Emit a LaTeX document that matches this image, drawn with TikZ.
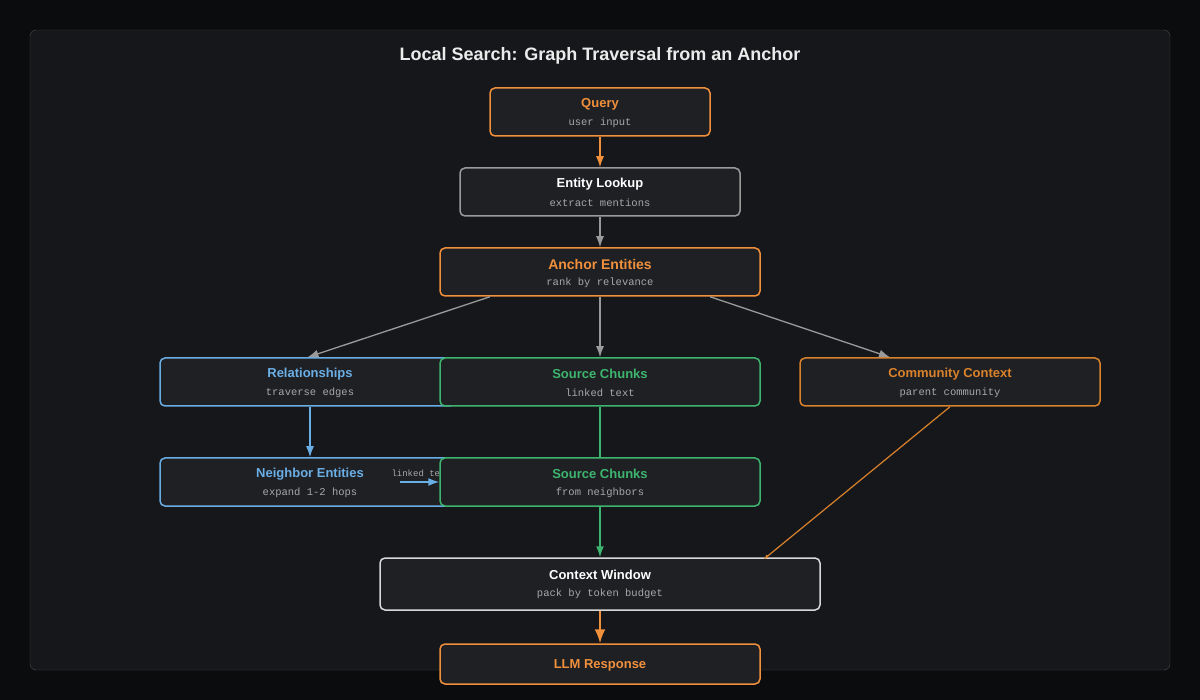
\documentclass[tikz,border=0pt]{standalone}
\usepackage{fontspec}
\setmainfont{Liberation Sans}
\newfontfamily\monof{Liberation Mono}
\usetikzlibrary{arrows.meta,calc}
\definecolor{bg}{HTML}{0B0C0E}
\definecolor{panel}{HTML}{16171B}
\definecolor{boxf}{HTML}{1F2024}
\definecolor{cor}{HTML}{F0903C}
\definecolor{cord}{HTML}{D9822B}
\definecolor{cgr}{HTML}{9A9A9A}
\definecolor{cbl}{HTML}{6AAEE6}
\definecolor{cgn}{HTML}{3DB56E}
\definecolor{cwh}{HTML}{D8D8D8}
\definecolor{sub}{HTML}{A8A8A8}
\tikzset{
 box/.style={draw=#1, fill=boxf, line width=1.5pt, rounded corners=5pt, inner sep=0pt},
 ttl/.style={font=\bfseries\fontsize{13}{15}\selectfont},
 sb/.style={font=\monof\fontsize{10.5}{12}\selectfont, text=sub},
 arr/.style={-{Latex[length=11pt,width=8pt]}, line width=1.3pt},
}
\begin{document}
\begin{tikzpicture}[x=1pt,y=-1pt]
\useasboundingbox (0,0) rectangle (1200,700);
\fill[bg] (0,0) rectangle (1200,700);
\fill[panel, draw=black!70, rounded corners=6pt] (30,30) rectangle (1170,670);
\node[font=\bfseries\fontsize{18}{20}\selectfont, text=white!92!black] (title) at (600,56) {Local Search: Graph Traversal from an Anchor};

\node[box=cor, minimum width=220pt, minimum height=48pt] (q) at (600,112) {};
\node[ttl, text=cor] at (600,104) {Query}; \node[sb] at (600,123) {user input};
\node[box=cgr, minimum width=280pt, minimum height=48pt] (el) at (600,192) {};
\node[ttl, text=white] at (600,184) {Entity Lookup}; \node[sb] at (600,203) {extract mentions};
\node[box=cor, minimum width=320pt, minimum height=48pt] (an) at (600,272) {};
\node[text=cor, font=\bfseries\fontsize{14}{16}\selectfont] at (600,264) {Anchor Entities}; \node[sb] at (600,283) {rank by relevance};

\node[box=cbl, minimum width=295pt, minimum height=48pt] (rel) at (307.5,382) {};
\node[ttl, text=cbl] at (310,374) {Relationships}; \node[sb] at (310,393) {traverse edges};
\node[box=cgn, minimum width=320pt, minimum height=48pt] (sc) at (600,382) {};
\node[ttl, text=cgn] at (600,374) {Source Chunks}; \node[sb] at (600,393) {linked text};
\node[box=cord, minimum width=300pt, minimum height=48pt] (cc) at (950,382) {};
\node[ttl, text=cord] at (950,374) {Community Context}; \node[sb] at (950,393) {parent community};

\node[box=cbl, minimum width=295pt, minimum height=48pt] (ne) at (307.5,482) {};
\node[ttl, text=cbl] at (310,474) {Neighbor Entities}; \node[sb] at (310,493) {expand 1-2 hops};
\node[anchor=west, font=\monof\fontsize{9}{10}\selectfont, text=sub] (lt) at (388,473) {linked text};
\coordinate (la) at (400,482);
\node[box=cgn, minimum width=320pt, minimum height=48pt] (sc2) at (600,482) {};
\node[ttl, text=cgn] at (600,474) {Source Chunks}; \node[sb] at (600,493) {from neighbors};
\draw[arr, cbl, line width=1.5pt] (la) -- (sc2.west);

\node[box=cwh, minimum width=440pt, minimum height=52pt] (cw) at (600,584) {};
\node[ttl, text=white] at (600,575) {Context Window}; \node[sb] at (600,594) {pack by token budget};
\node[box=cor, minimum width=320pt, minimum height=40pt] (llm) at (600,664) {};
\node[ttl, text=cor] at (600,665) {LLM Response};

\draw[arr, cor] (q) -- (el);
\draw[arr, cgr] (el) -- (an);
\draw[arr, cgr] ($(an.south)+(-110,0)$) -- (rel.north);
\draw[arr, cgr] (an) -- (sc);
\draw[arr, cgr] ($(an.south)+(110,0)$) -- ($(cc.north)+(-60,0)$);
\draw[arr, cbl, line width=1.5pt] ($(rel.south)+(2.5,0)$) -- ($(ne.north)+(2.5,0)$);
\draw[cgn, line width=1.5pt] (sc) -- (sc2);
\draw[arr, cgn, line width=1.5pt] (sc2) -- (cw);
\draw[cord, line width=1.2pt, -{Latex[length=5pt,width=4pt]}] (cc.south) -- ($(cw.north east)+(-57,2)$);
\draw[cor, line width=2pt, -{Latex[length=14pt,width=11pt]}] (cw) -- (llm);
\end{tikzpicture}
\end{document}
